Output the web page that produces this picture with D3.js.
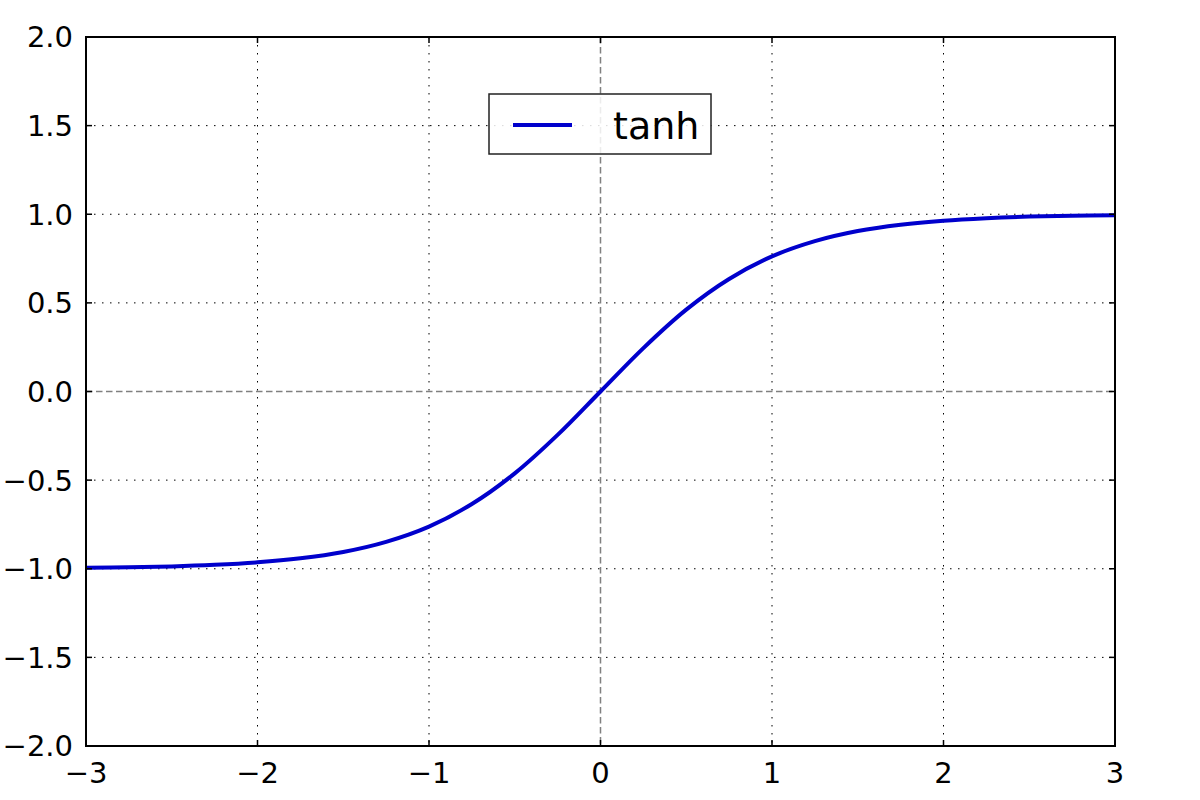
<!DOCTYPE html>
<html><head><meta charset="utf-8">
<script src="https://cdn.jsdelivr.net/npm/d3@7"></script>
<style>html,body{margin:0;padding:0;background:#fff;} svg{display:block;font-family:"DejaVu Sans",sans-serif;}</style>
</head><body>
<svg id="c" width="1200" height="800"></svg>
<script>
// Data
const xs = [-3,-2.75,-2.5,-2.25,-2,-1.75,-1.5,-1.25,-1,-0.75,-0.5,-0.25,0,0.25,0.5,0.75,1,1.25,1.5,1.75,2,2.25,2.5,2.75,3];
const ys = [-0.995,-0.992,-0.987,-0.978,-0.964,-0.941,-0.905,-0.848,-0.762,-0.635,-0.462,-0.245,0,0.245,0.462,0.635,0.762,0.848,0.905,0.941,0.964,0.978,0.987,0.992,0.995];
const xTicks = [-3,-2,-1,0,1,2,3];
const yTicks = [-2,-1.5,-1,-0.5,0,0.5,1,1.5,2];
const seriesName = "tanh";

const svg = d3.select("#c");
const L=86, R=1115, T=37, B=746;
const x = d3.scaleLinear().domain([-3,3]).range([L,R]);
const y = d3.scaleLinear().domain([-2,2]).range([B,T]);
const fmtY = d3.format(".1f");
const minus = s => String(s).replace("-","\u2212");

// grid
const g = svg.append("g");
g.selectAll(".gx").data(xTicks.filter(d=>d!==0)).enter().append("line")
 .attr("x1",d=>x(d)).attr("x2",d=>x(d)).attr("y1",T).attr("y2",B)
 .attr("stroke","#000").attr("stroke-width",1).attr("stroke-dasharray","1.5,6.5");
g.selectAll(".gy").data(yTicks.filter(d=>d!==0)).enter().append("line")
 .attr("y1",d=>y(d)).attr("y2",d=>y(d)).attr("x1",L).attr("x2",R)
 .attr("stroke","#000").attr("stroke-width",1).attr("stroke-dasharray","1.5,6.5");
// zero lines
g.append("line").attr("x1",x(0)).attr("x2",x(0)).attr("y1",T).attr("y2",B)
 .attr("stroke","#808080").attr("stroke-width",1.5).attr("stroke-dasharray","6.5,3.5");
g.append("line").attr("y1",y(0)).attr("y2",y(0)).attr("x1",L).attr("x2",R)
 .attr("stroke","#808080").attr("stroke-width",1.5).attr("stroke-dasharray","6.5,3.5");

// curve
const pts = xs.map((v,i)=>[v,ys[i]]);
svg.append("path").datum(pts)
 .attr("d", d3.line().x(d=>x(d[0])).y(d=>y(d[1])).curve(d3.curveCatmullRom))
 .attr("fill","none").attr("stroke","#0000cc").attr("stroke-width",4);

// frame
svg.append("rect").attr("x",L).attr("y",T).attr("width",R-L).attr("height",B-T)
 .attr("fill","none").attr("stroke","#000").attr("stroke-width",2);

// ticks (inward, all sides)
const tk = 6;
const tg = svg.append("g").attr("stroke","#000").attr("stroke-width",1.5);
xTicks.forEach(d=>{
  tg.append("line").attr("x1",x(d)).attr("x2",x(d)).attr("y1",B).attr("y2",B-tk);
  tg.append("line").attr("x1",x(d)).attr("x2",x(d)).attr("y1",T).attr("y2",T+tk);
});
yTicks.forEach(d=>{
  tg.append("line").attr("y1",y(d)).attr("y2",y(d)).attr("x1",L).attr("x2",L+tk);
  tg.append("line").attr("y1",y(d)).attr("y2",y(d)).attr("x1",R).attr("x2",R-tk);
});

// tick labels
svg.selectAll(".xl").data(xTicks).enter().append("text")
 .attr("x",d=>x(d)).attr("y",783).attr("text-anchor","middle")
 .attr("font-size",29).attr("fill","#000").text(d=>minus(d));
svg.selectAll(".yl").data(yTicks).enter().append("text")
 .attr("x",73).attr("y",d=>y(d)).attr("dy","0.36em").attr("text-anchor","end")
 .attr("font-size",29).attr("fill","#000").text(d=>minus(fmtY(d)));

// legend
const lg = svg.append("g");
lg.append("rect").attr("x",489).attr("y",94).attr("width",222).attr("height",60)
 .attr("fill","#fff").attr("fill-opacity",0.85).attr("stroke","#222").attr("stroke-width",1.5);
lg.append("line").attr("x1",513).attr("x2",572).attr("y1",125).attr("y2",125)
 .attr("stroke","#0000cc").attr("stroke-width",4);
lg.append("text").attr("x",613).attr("y",139).attr("font-size",38).attr("fill","#000").text(seriesName);
</script>
</body></html>
